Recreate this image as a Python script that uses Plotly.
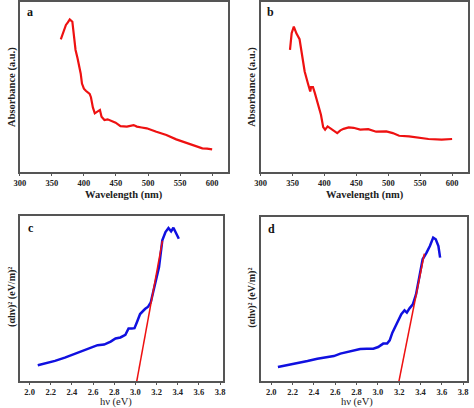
import plotly.graph_objects as go

# Panel a: absorbance vs wavelength
wl_a = [364, 368, 372, 375, 378, 382, 385, 387, 390, 392, 395, 397, 400, 403, 406, 409, 411, 414, 417, 421, 425, 427.5, 432, 437, 442, 449.5, 457, 467, 477.5, 482.6, 490, 498, 513, 528.6, 544, 559, 574.5, 584.7, 592, 600]
abs_a = [0.78, 0.83, 0.865, 0.88, 0.898, 0.884, 0.80, 0.718, 0.67, 0.639, 0.58, 0.52, 0.49, 0.478, 0.47, 0.46, 0.44, 0.38, 0.345, 0.355, 0.365, 0.325, 0.306, 0.31, 0.302, 0.29, 0.27, 0.267, 0.276, 0.267, 0.262, 0.257, 0.237, 0.218, 0.192, 0.173, 0.149, 0.139, 0.137, 0.133]

# Panel b: absorbance vs wavelength
wl_b = [346, 348.6, 352, 356, 361, 365, 369, 374, 377.7, 379, 382, 385, 389, 394.5, 398, 401, 405, 409, 415, 420, 425, 430, 438, 445.6, 456, 468.6, 481, 497, 507, 517, 532.5, 548, 563, 583.6, 600]
abs_b = [0.718, 0.816, 0.855, 0.816, 0.781, 0.679, 0.591, 0.522, 0.474, 0.499, 0.499, 0.464, 0.405, 0.337, 0.264, 0.249, 0.268, 0.258, 0.245, 0.229, 0.245, 0.254, 0.262, 0.26, 0.249, 0.252, 0.237, 0.239, 0.229, 0.213, 0.209, 0.202, 0.194, 0.19, 0.194]

# Panel c: Tauc plot
ev_c = [2.077, 2.148, 2.24, 2.333, 2.426, 2.519, 2.596, 2.642, 2.704, 2.766, 2.812, 2.858, 2.905, 2.935, 2.966, 2.991, 3.013, 3.044, 3.09, 3.12, 3.145, 3.167, 3.19, 3.223, 3.254, 3.284, 3.312, 3.337, 3.359, 3.383, 3.41]
tauc_c = [0.095, 0.105, 0.122, 0.142, 0.166, 0.189, 0.207, 0.217, 0.221, 0.239, 0.258, 0.264, 0.28, 0.318, 0.318, 0.32, 0.355, 0.406, 0.436, 0.45, 0.477, 0.538, 0.604, 0.69, 0.852, 0.903, 0.927, 0.907, 0.929, 0.899, 0.862]
fit_c_x = [3.01, 3.255]
fit_c_y = [-0.01, 0.85]

# Panel d: Tauc plot
ev_d = [2.062, 2.154, 2.247, 2.34, 2.432, 2.509, 2.587, 2.648, 2.726, 2.787, 2.834, 2.895, 2.957, 3.003, 3.05, 3.087, 3.111, 3.136, 3.173, 3.22, 3.25, 3.272, 3.297, 3.328, 3.358, 3.389, 3.42, 3.457, 3.488, 3.519, 3.543, 3.568, 3.584]
tauc_d = [0.085, 0.096, 0.108, 0.122, 0.136, 0.146, 0.152, 0.167, 0.177, 0.189, 0.195, 0.197, 0.197, 0.207, 0.228, 0.228, 0.248, 0.295, 0.346, 0.407, 0.431, 0.417, 0.443, 0.467, 0.528, 0.63, 0.742, 0.783, 0.823, 0.874, 0.864, 0.823, 0.752]
fit_d_x = [3.195, 3.436]
fit_d_y = [-0.01, 0.776]

wl_ticks = [300, 350, 400, 450, 500, 550, 600]
ev_ticks = [2.0, 2.2, 2.4, 2.6, 2.8, 3.0, 3.2, 3.4, 3.6, 3.8]

W, H = 474, 408
def px(x):
    return x / W
def py(y):
    return 1 - y / H

fig = go.Figure()
red = "#ee1111"
blue = "#1010e0"
fig.add_trace(go.Scatter(x=wl_a, y=abs_a, mode="lines", line=dict(color=red, width=2.2), xaxis="x", yaxis="y"))
fig.add_trace(go.Scatter(x=wl_b, y=abs_b, mode="lines", line=dict(color=red, width=2.2), xaxis="x2", yaxis="y2"))
fig.add_trace(go.Scatter(x=ev_c, y=tauc_c, mode="lines", line=dict(color=blue, width=2.5), xaxis="x3", yaxis="y3"))
fig.add_trace(go.Scatter(x=fit_c_x, y=fit_c_y, mode="lines", line=dict(color=red, width=1.5), xaxis="x3", yaxis="y3"))
fig.add_trace(go.Scatter(x=ev_d, y=tauc_d, mode="lines", line=dict(color=blue, width=2.5), xaxis="x4", yaxis="y4"))
fig.add_trace(go.Scatter(x=fit_d_x, y=fit_d_y, mode="lines", line=dict(color=red, width=1.5), xaxis="x4", yaxis="y4"))

font_family = "Liberation Serif"
tickfont = dict(family=font_family, size=8.5, color="#222", weight="bold")
axcommon = dict(showline=True, linecolor="#555", linewidth=1.5, mirror=True, showgrid=False, zeroline=False)

boxes = {
    "1": (14, 226, 2, 172, [300, 625], wl_ticks, [0, 1]),
    "2": (259, 470, 2, 172, [300, 625], wl_ticks, [0, 1]),
    "3": (14, 221, 216, 381, [1.907, 3.83], ev_ticks, [0, 1]),
    "4": (259, 469, 217, 381, [1.9, 3.837], ev_ticks, [0, 1]),
}
layout = dict(width=W, height=H, margin=dict(l=0, r=0, t=0, b=0), showlegend=False,
              plot_bgcolor="white", paper_bgcolor="white")
for k, (x0, x1, y0, y1, xr, ticks, yr) in boxes.items():
    sfx = "" if k == "1" else k
    if ticks is ev_ticks:
        ticktext = ["%.1f" % t for t in ticks]
    else:
        ticktext = [str(t) for t in ticks]
    layout["xaxis" + sfx] = dict(domain=[px(x0), px(x1)], range=xr, anchor="y" + sfx,
                                 tickvals=ticks, ticktext=ticktext, ticks="outside", ticklen=2,
                                 tickcolor="#555", tickfont=tickfont, **axcommon)
    layout["yaxis" + sfx] = dict(domain=[py(y1), py(y0)], range=yr, anchor="x" + sfx,
                                 showticklabels=False, ticks="", **axcommon)
fig.update_layout(**layout)

titlefont = dict(family=font_family, size=10.5, color="#222", weight="bold")
ann = []
def add(text, x, y, angle=0, font=titlefont):
    ann.append(dict(text=text, x=px(x), y=py(y), xref="paper", yref="paper", showarrow=False,
                    textangle=angle, font=font, xanchor="center", yanchor="middle"))
add("Wavelength (nm)", 120, 195)
add("Wavelength (nm)", 365, 195)
add("Absorbance (a.u.)", 6, 87, -90)
add("Absorbance (a.u.)", 250, 87, -90)
regfont = dict(family=font_family, size=10.5, color="#222")
add("hν (eV)", 112, 402, font=regfont)
add("hν (eV)", 357, 402, font=regfont)
add("(αhν)² (eV/m)²", 6, 297, -90, font=dict(family=font_family, size=10, color="#222", weight="bold"))
add("(αhν)² (eV/m)²", 250, 298, -90, font=dict(family=font_family, size=10, color="#222", weight="bold"))
letfont = dict(family=font_family, size=12, color="#111", weight="bold")
add("a", 24, 12, font=letfont)
add("b", 269, 12, font=letfont)
add("c", 25, 228, font=letfont)
add("d", 270, 229, font=letfont)
fig.update_layout(annotations=ann)

fig.write_html("out.html")
